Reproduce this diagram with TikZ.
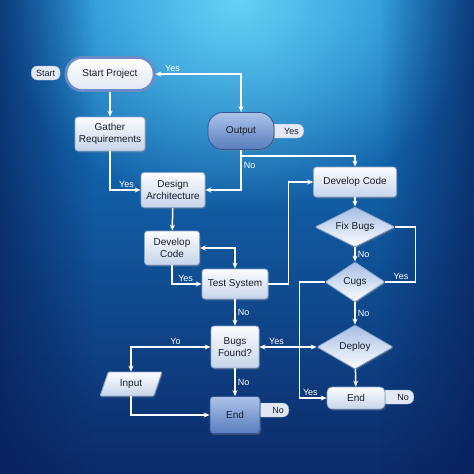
\documentclass[tikz,border=0pt]{standalone}
\usepackage{fontspec}
\setmainfont{Liberation Sans}
\usetikzlibrary{arrows.meta,shapes.geometric,shadows,fadings}

\definecolor{bgtop}{RGB}{22,128,205}
\definecolor{bgmid}{RGB}{14,95,178}
\definecolor{bgbot}{RGB}{12,42,105}
\definecolor{glow}{RGB}{100,210,245}
\definecolor{edge}{RGB}{8,32,90}
\definecolor{boxtop}{RGB}{252,253,255}
\definecolor{boxbot}{RGB}{198,212,234}
\definecolor{boxline}{RGB}{140,165,205}
\definecolor{decitop}{RGB}{165,190,228}
\definecolor{darktop}{RGB}{172,196,234}
\definecolor{darkbot}{RGB}{88,124,190}
\definecolor{darkline}{RGB}{55,85,150}
\definecolor{ringblue}{RGB}{108,140,198}
\definecolor{tagfill}{RGB}{226,233,244}
\definecolor{inktext}{RGB}{25,30,45}

\tikzfading[name=glowfade, inner color=transparent!0, outer color=transparent!100]

\tikzset{
	box/.style={rectangle, rounded corners=3pt, draw=boxline, line width=0.8pt, top color=boxtop, bottom color=boxbot, text=inktext, align=center, inner sep=2pt, font=\fontsize{10}{11.5}\selectfont, drop shadow={opacity=0.35, shadow xshift=1pt, shadow yshift=-1.5pt}},
	darkbox/.style={box, draw=darkline, top color=darktop, bottom color=darkbot},
	startbox/.style={box, rounded corners=16pt, draw=ringblue, line width=2.8pt, top color=white, bottom color=boxtop!50!boxbot},
	decision/.style={box, diamond, aspect=2, rounded corners=1pt, inner sep=1pt, top color=decitop, bottom color=boxtop},
	io/.style={box, trapezium, trapezium left angle=70, trapezium right angle=110, trapezium stretches=true, rounded corners=1pt},
	tag/.style={rectangle, rounded corners=6pt, draw=boxline, fill=tagfill, text=inktext, font=\fontsize{9}{10}\selectfont, minimum height=14pt, inner xsep=5pt, inner ysep=1pt},
	line/.style={draw=white, line width=1.5pt},
	flow/.style={line, -{Stealth[length=6pt,width=5pt]}},
	both/.style={line, {Stealth[length=6pt,width=5pt]}-{Stealth[length=6pt,width=5pt]}},
	lbl/.style={text=white, font=\fontsize{9}{10}\selectfont, inner sep=2pt}
}

\begin{document}
\begin{tikzpicture}[x=1pt, y=-1pt]
		\useasboundingbox (0,0) rectangle (474,474);
		% Draw background
		\begin{scope}
			\clip (0,0) rectangle (474,474);
			\shade[top color=bgtop, middle color=bgmid, bottom color=bgbot] (0,0) rectangle (474,474);
			\fill[glow, path fading=glowfade] (237,0) ellipse [x radius=240pt, y radius=210pt];
			\fill[edge, opacity=0.7, path fading=east] (0,0) rectangle (95,474);
			\fill[edge, opacity=0.7, path fading=west] (379,0) rectangle (474,474);
		\end{scope}

		% Draw tags behind the nodes
		\node[tag, anchor=west] (startTag) at (31,73) {Start\hspace{12pt}};
		\node[tag, anchor=east] (outTag) at (304,131) {\hspace{14pt}Yes};
		\node[tag, anchor=east] (endLTag) at (289,410) {\hspace{12pt}No};
		\node[tag, anchor=east] (endRTag) at (414,397) {\hspace{12pt}No};

		% Draw nodes
		\node[startbox, minimum width=88pt, minimum height=33pt] (startProj) at (110,74) {Start Project};
		\node[box, minimum width=70pt, minimum height=34pt] (gather) at (110,134) {Gather\\Requirements};
		\node[box, minimum width=64pt, minimum height=35pt] (design) at (173,190) {Design\\Architecture};
		\node[darkbox, rounded corners=15pt, minimum width=66pt, minimum height=37pt] (output) at (241,131) {Output};
		\node[box, minimum width=55pt, minimum height=34pt] (devL) at (172,248) {Develop\\Code};
		\node[box, minimum width=66pt, minimum height=30pt] (test) at (235,284) {Test System};
		\node[box, minimum width=48pt, minimum height=42pt] (bugs) at (235,347) {Bugs\\Found?};
		\node[io, minimum width=62pt, minimum height=24pt] (input) at (131,384) {Input};
		\node[darkbox, minimum width=50pt, minimum height=37pt] (endL) at (235,415) {End};
		\node[box, minimum width=83pt, minimum height=30pt] (devR) at (355,182) {Develop Code};
		\node[decision, minimum width=80pt, minimum height=40pt] (fixBugs) at (355,227) {Fix Bugs};
		\node[decision, minimum width=60pt, minimum height=40pt] (cugs) at (355,282) {Cugs};
		\node[decision, minimum width=76pt, minimum height=44pt] (deploy) at (355,347) {Deploy};
		\node[box, rounded corners=5pt, minimum width=58pt, minimum height=22pt] (endR) at (356,398) {End};

		% Draw connectors
		\draw[both] (output.north) |- (startProj.east) node[lbl, pos=0.9, above] {Yes};
		\draw[flow] (startProj) -- (gather);
		\draw[flow] (gather.south) |- (design.west) node[lbl, pos=0.77, above] {Yes};
		\draw[flow] (output.south) |- (design.east) node[lbl, pos=0.2, right] {No};
		\draw[flow] (output.south) -- ++(0,6) -| (devR.north);
		\draw[flow] (design) -- (devL);
		\draw[flow] (devL.south) |- (test.west) node[lbl, pos=0.73, above] {Yes};
		\draw[both] (test.north) |- (devL.east);
		\draw[flow] (test.east) -- ++(20,0) |- (devR.west);
		\draw[flow] (test) -- (bugs) node[lbl, midway, right] {No};
		\draw[both] (bugs.west) -| (input.north) node[lbl, pos=0.22, above] {Yo};
		\draw[flow] (input.south) |- (endL.west);
		\draw[flow] (bugs) -- (endL) node[lbl, midway, right] {No};
		\draw[both] (bugs) -- (deploy) node[lbl, pos=0.3, above] {Yes};
		\draw[flow] (devR) -- (fixBugs);
		\draw[flow] (fixBugs) -- (cugs) node[lbl, midway, right] {No};
		\draw[line] (fixBugs.east) -- ++(20,0) |- (cugs.east) node[lbl, pos=0.74, above] {Yes};
		\draw[flow] (cugs) -- (deploy) node[lbl, midway, right] {No};
		\draw[flow] (cugs.west) -- ++(-25,0) |- (endR.west) node[lbl, pos=0.7, above] {Yes};
		\draw[flow] (deploy) -- (endR);
	\end{tikzpicture}
\end{document}
